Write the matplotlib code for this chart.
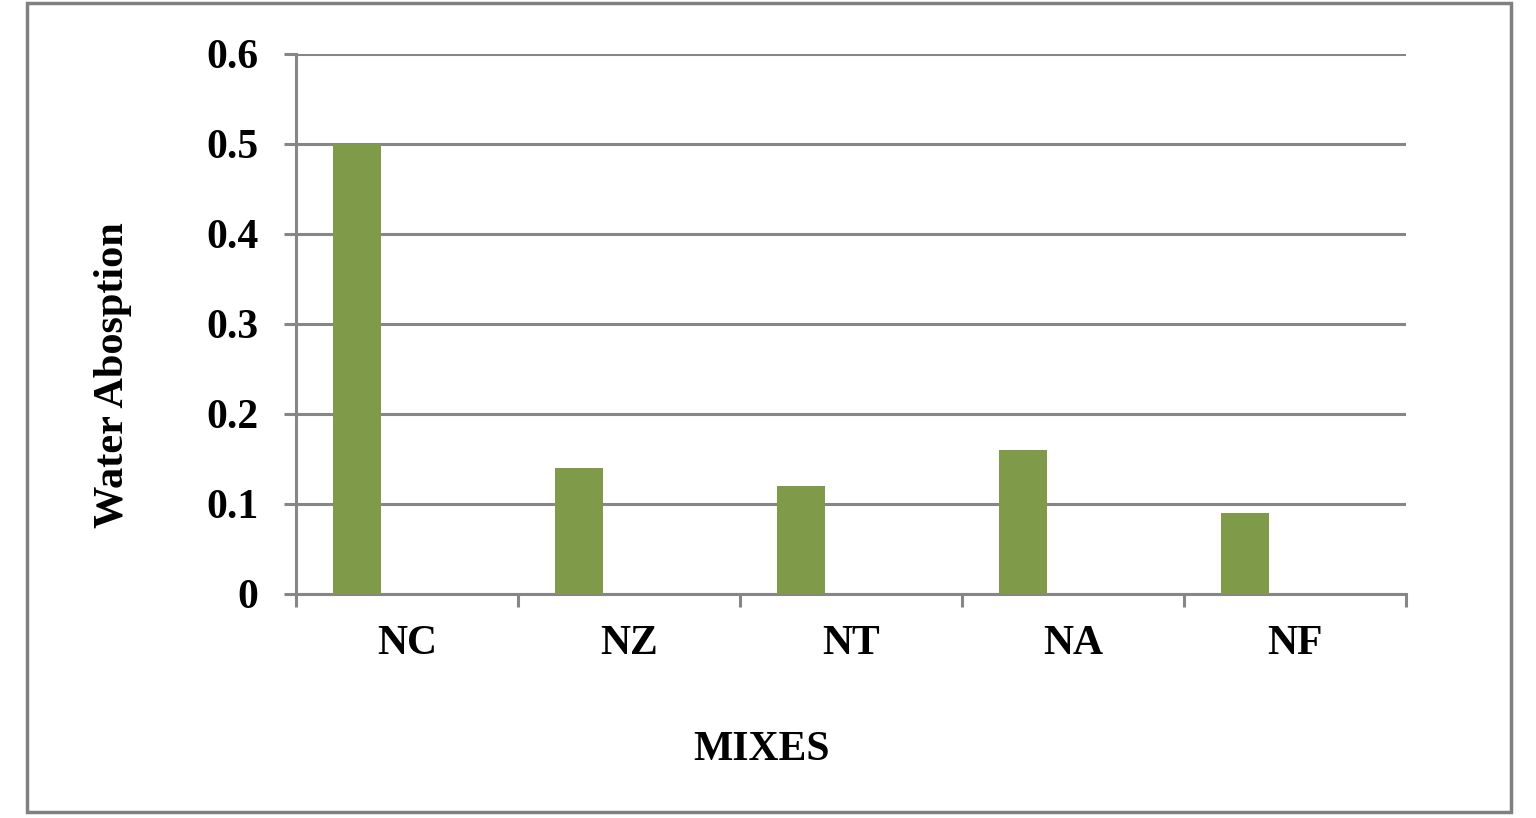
import matplotlib.pyplot as plt
from matplotlib.patches import Rectangle
import numpy as np

# data
mixes = ["NC", "NZ", "NT", "NA", "NF"]
water_absorption = [0.50, 0.14, 0.12, 0.16, 0.09]
yticks = [0, 0.1, 0.2, 0.3, 0.4, 0.5, 0.6]
ytick_labels = ["0", "0.1", "0.2", "0.3", "0.4", "0.5", "0.6"]

GREY = "#868686"
BAR = "#7f9a48"

plt.rcParams['font.family'] = ['Liberation Serif', 'DejaVu Serif']
plt.rcParams['font.weight'] = 'bold'

fig = plt.figure(figsize=(15.36, 8.18), dpi=100)
ax = fig.add_axes([296/1536, 1 - 594/818, (1406-296)/1536, (594-54)/818])

x = np.arange(len(mixes))
ax.bar(x - 0.225, water_absorption, width=0.2175, color=BAR, zorder=3)

ax.set_xlim(-0.5, len(mixes) - 0.5)
ax.set_ylim(0, 0.6)
ax.set_yticks(yticks)
ax.set_yticklabels(ytick_labels)
ax.set_xticks(x)
ax.set_xticklabels(mixes)
ax.set_xticks(np.arange(len(mixes) + 1) - 0.5, minor=True)

ax.yaxis.grid(True, color=GREY, linewidth=2.2, zorder=1)
ax.set_axisbelow(True)
for s in ["top", "right"]:
    ax.spines[s].set_visible(False)
for s in ["left", "bottom"]:
    ax.spines[s].set_color(GREY)
    ax.spines[s].set_linewidth(2.2)

ax.tick_params(axis="y", length=9, width=2.2, color=GREY, pad=18, labelsize=30)
ax.tick_params(axis="x", which="major", length=0, pad=22, labelsize=30)
ax.tick_params(axis="x", which="minor", length=9, width=2.2, color=GREY)
for lab in ax.get_xticklabels() + ax.get_yticklabels():
    lab.set_fontweight("bold")

fig.text(762/1536, 1 - 750/818, "MIXES", ha="center", va="center",
         fontsize=30, fontweight="bold")
fig.text(113/1536, 1 - 375/818, "Water Abosption", ha="center", va="center",
         rotation=90, fontsize=30.5, fontweight="bold")

# outer chart border
fig.patches.append(Rectangle((27/1536, 1 - 812/818), (1511-27)/1536, (812-3)/818,
                             transform=fig.transFigure, fill=False,
                             edgecolor="#808080", linewidth=2.5))

fig.savefig("out.png", dpi=100, facecolor="white")
